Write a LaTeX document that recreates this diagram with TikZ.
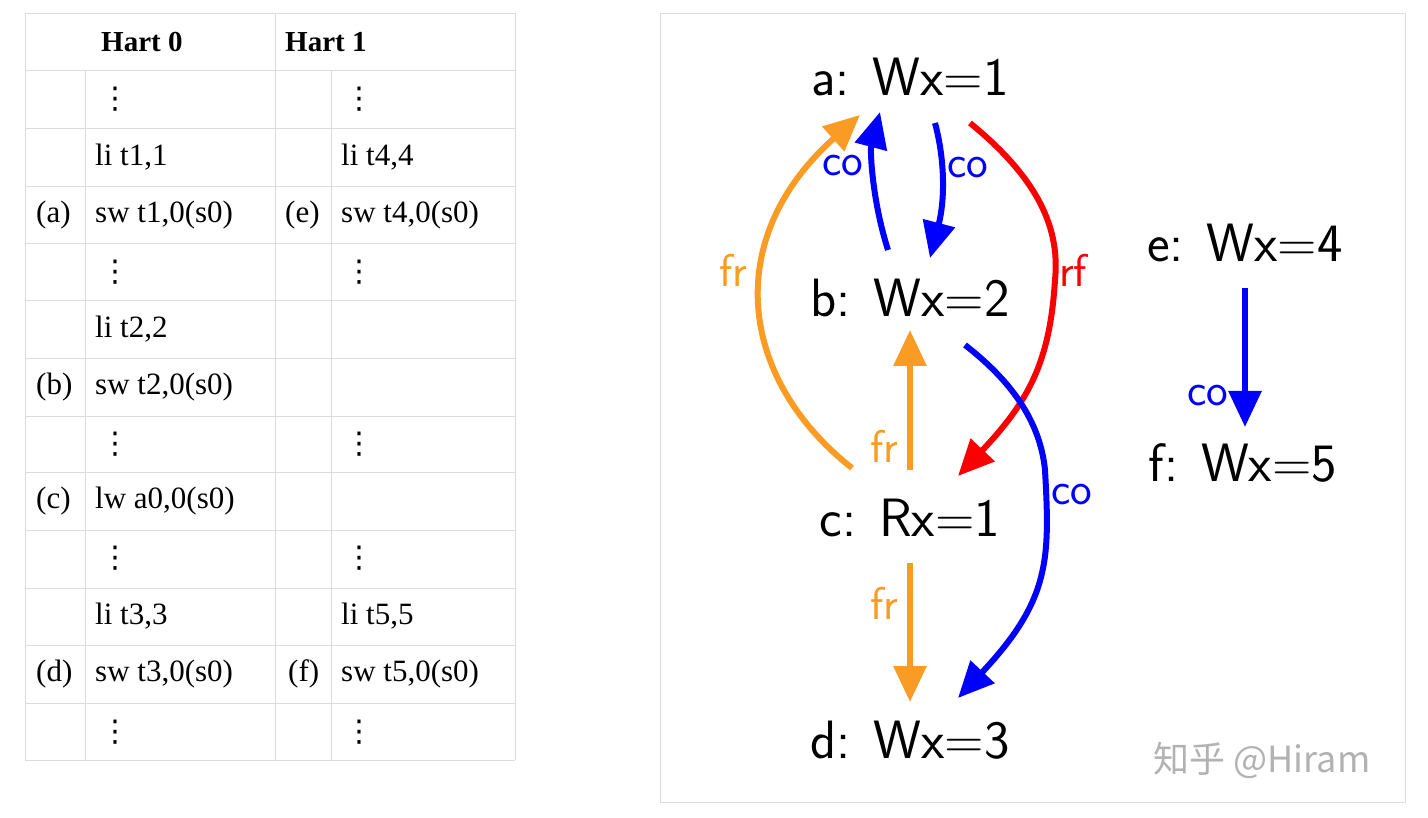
\documentclass[tikz,border=0pt]{standalone}
\usepackage{fontspec}
\newfontfamily\cjk{Noto Sans CJK SC}
\newfontfamily\tabf{Liberation Serif}
\newfontfamily\djv{DejaVu Sans}
\usetikzlibrary{arrows.meta}
\definecolor{grid}{RGB}{220,220,220}
\definecolor{myblue}{RGB}{0,0,255}
\definecolor{myorange}{RGB}{250,155,35}
\definecolor{myred}{RGB}{250,0,0}
\begin{document}
\begin{tikzpicture}[x=1pt,y=-1pt,
 cell/.style={font=\tabf\fontsize{31}{34}\selectfont,anchor=west,inner sep=0},
 ev/.style={font=\sffamily\fontsize{54}{58}\selectfont,inner sep=2pt},
 lab/.style={font=\sffamily\fontsize{46}{50}\selectfont,inner sep=0},
 arr/.style={line width=6pt,-{Triangle[length=36pt,width=32pt]}}]
\useasboundingbox (0,0) rectangle (1428,818);
\fill[white] (0,0) rectangle (1428,818);
% table
\foreach \y in {13,70,128,186,243,300,358,416,472,530,588,645,703,760}
  \draw[grid] (25,\y) -- (515,\y);
\draw[grid] (25,13) -- (25,760);
\draw[grid] (515,13) -- (515,760);
\draw[grid] (275,13) -- (275,760);
\draw[grid] (85,70) -- (85,760);
\draw[grid] (331,70) -- (331,760);
\node[cell,font=\tabf\bfseries\fontsize{29}{32}\selectfont] (h0) at (101,42) {Hart 0};
\node[cell,font=\tabf\bfseries\fontsize{29}{32}\selectfont] (h1) at (285,42) {Hart 1};
\foreach \y/\n in {99/a,272/b,444/c,558/d,732/e}{
 \node[cell,font=\djv\fontsize{30}{32}\selectfont] (vl\n) at (100,\y) {⋮};}
\foreach \y/\n in {99/a,272/b,444/c,558/d,732/e}{
 \node[cell,font=\djv\fontsize{30}{32}\selectfont] (vr\n) at (344,\y) {⋮};}
\node[cell] (t1) at (95,157) {li t1,1};
\node[cell] (t2) at (95,215) {sw t1,0(s0)};
\node[cell] (t3) at (95,329) {li t2,2};
\node[cell] (t4) at (95,387) {sw t2,0(s0)};
\node[cell] (t5) at (95,501) {lw a0,0(s0)};
\node[cell] (t6) at (95,616) {li t3,3};
\node[cell] (t7) at (95,674) {sw t3,0(s0)};
\node[cell] (u1) at (341,157) {li t4,4};
\node[cell] (u2) at (341,215) {sw t4,0(s0)};
\node[cell] (u3) at (341,616) {li t5,5};
\node[cell] (u4) at (341,674) {sw t5,0(s0)};
\node[cell] (la) at (36,215) {(a)};
\node[cell] (lb) at (36,387) {(b)};
\node[cell] (lc) at (36,501) {(c)};
\node[cell] (ld) at (36,674) {(d)};
\node[cell] (le) at (285,215) {(e)};
\node[cell] (lf) at (288,674) {(f)};
% right panel
\draw[grid] (660,13) rectangle (1405,802);
\node[ev] (a) at (910,77) {a: Wx=1};
\node[ev] (b) at (910,298) {b: Wx=2};
\node[ev] (c) at (910,518) {c: Rx=1};
\node[ev] (d) at (910,740) {d: Wx=3};
\node[ev] (e) at (1245,243) {e: Wx=4};
\node[ev] (f) at (1243,463) {f: Wx=5};
\coordinate (a1) at (880,112);
\coordinate (b1) at (888,250);
\coordinate (a2) at (935,123);
\coordinate (b2) at (930,258);
\coordinate (c1) at (852,468);
\coordinate (a3) at (860,115);
\coordinate (a4) at (970,123);
\coordinate (c2) at (958,476);
\coordinate (c3) at (910,470);
\coordinate (b3) at (910,330);
\coordinate (b4) at (965,345);
\coordinate (d1) at (958,698);
\coordinate (c4) at (910,563);
\coordinate (d2) at (910,702);
\coordinate (e1) at (1245,288);
\coordinate (f1) at (1245,427);
\draw[arr,myblue] (b1) .. controls (872,200) and (870,150) .. (a1);
\draw[arr,myblue] (a2) .. controls (945,160) and (945,200) .. (b2);
\draw[arr,myorange] (c1) .. controls (740,380) and (720,240) .. (a3);
\draw[arr,myred] (a4) .. controls (1040,180) and (1060,230) .. (1055,280) .. controls (1050,360) and (1030,400) .. (c2);
\draw[arr,myorange] (c3) -- (b3);
\draw[arr,myblue] (b4) .. controls (1010,380) and (1040,420) .. (1045,470) .. controls (1050,560) and (1050,600) .. (d1);
\draw[arr,myorange] (c4) -- (d2);
\draw[arr,myblue] (e1) -- (f1);
\node[lab,myblue] (l1) at (843,166) {co};
\node[lab,myblue] (l2) at (968,168) {co};
\node[lab,myorange] (l3) at (733,270) {fr};
\node[lab,myred] (l4) at (1073,270) {rf};
\node[lab,myorange] (l5) at (884,446) {fr};
\node[lab,myblue] (l6) at (1072,495) {co};
\node[lab,myorange] (l7) at (884,603) {fr};
\node[lab,myblue] (l8) at (1208,396) {co};
\node[font=\cjk\fontsize{36}{40}\selectfont,text=black!30] (wm) at (1262,760) {知乎 @Hiram};
\end{tikzpicture}
\end{document}
